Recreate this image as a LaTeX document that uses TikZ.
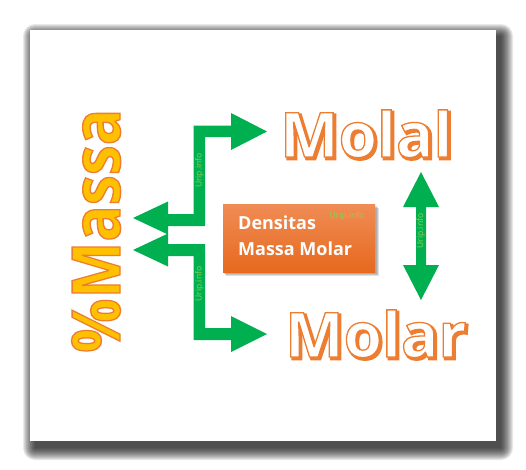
\documentclass[tikz,border=0pt]{standalone}
\usepackage{fontspec}
\setmainfont{Open Sans}
\usetikzlibrary{calc}
\definecolor{grn}{RGB}{0,176,80}
\definecolor{wm}{RGB}{146,208,80}
\definecolor{org}{RGB}{237,125,49}
\definecolor{yel}{RGB}{255,192,0}
\definecolor{boxtop}{RGB}{240,140,85}
\definecolor{boxbot}{RGB}{230,105,30}
\newcommand\strokedtext[2]{{\special{pdf:literal direct 0.929 0.490 0.192 RG 2 Tr #1 w}#2\special{pdf:literal direct 0 Tr}}}
\begin{document}
\begin{tikzpicture}[x=1pt,y=-1pt,
  bigtxt/.style={font=\fontsize{62}{62}\selectfont\bfseries, inner sep=0pt, anchor=base west},
  masstxt/.style={font=\fontsize{67}{67}\selectfont\bfseries, inner sep=0pt, anchor=base west, rotate=90, xscale=0.9},
  boxtxt/.style={font=\fontsize{18}{18}\selectfont\bfseries, text=white, inner sep=0pt, anchor=base west},
  wmtxt/.style={font=\fontsize{8.5}{8.5}\selectfont, text=wm, inner sep=0pt},
  arrowshape/.style={fill=grn, draw=none}]
\useasboundingbox (0,0) rectangle (526,469);
% card shadow
\foreach \i in {12,11,...,0}
  \fill[black, opacity=0.085, rounded corners=\i pt] ({35-\i},{36-\i}) rectangle ({501+\i},{448+\i});
% card
\fill[white] (30,30) rectangle (496,441);
% positions
\coordinate (molalpos) at (280,157);
\coordinate (molarpos) at (285,357);
\coordinate (masspos) at (120,353);
% Molal
\node[bigtxt, text=org] (molalsh) at ($(molalpos)+(2,2)$) {\strokedtext{2.6}{Molal}};
\node[bigtxt, text=white] (molal) at (molalpos) {\strokedtext{1.3}{Molal}};
% Molar
\node[bigtxt, text=org] (molarsh) at ($(molarpos)+(2,2)$) {\strokedtext{2.6}{Molar}};
\node[bigtxt, text=white] (molar) at (molarpos) {\strokedtext{1.3}{Molar}};
% %Massa
\node[masstxt, text=yel] (massa) at (masspos) {\strokedtext{1.4}{\%Massa}};
% orange box
\foreach \i in {0,1,2}
  \fill[black, opacity=0.12] ({224+\i},{206+\i}) rectangle ({377+\i},{274+\i});
\node[top color=boxtop, bottom color=boxbot, minimum width=152pt, minimum height=68pt, inner sep=0pt, anchor=north west] (box) at (223,204) {};
\node[boxtxt] (dens) at (238,229.5) {Densitas};
\node[boxtxt] (mm) at (238,255) {Massa Molar};
\node[wmtxt] (wm0) at (347,216.5) {Urip.info};
% green arrows
\fill[arrowshape] (133,218) -- (168,201.5) -- (168,214) -- (193.5,214) -- (193.5,125.5)
  -- (231,125.5) -- (231,113) -- (267,131.5) -- (231,150) -- (231,137) -- (205,137)
  -- (205,226) -- (168,226) -- (168,234.5) -- cycle;
\fill[arrowshape] (133,250) -- (168,233.5) -- (168,244) -- (205,244) -- (205,328)
  -- (231,328) -- (231,316) -- (267,334) -- (231,352) -- (231,340) -- (193.5,340)
  -- (193.5,256) -- (168,256) -- (168,266.5) -- cycle;
\fill[arrowshape] (421,172) -- (439,207) -- (426,207) -- (426,265) -- (439,265)
  -- (421,300) -- (403,265) -- (416,265) -- (416,207) -- (403,207) -- cycle;
\node[wmtxt, rotate=90] (wm1) at (199.5,170.5) {Urip.info};
\node[wmtxt, rotate=90] (wm2) at (199.5,284) {Urip.info};
\node[wmtxt, rotate=90] (wm3) at (421,231) {Urip.info};
\end{tikzpicture}
\end{document}
